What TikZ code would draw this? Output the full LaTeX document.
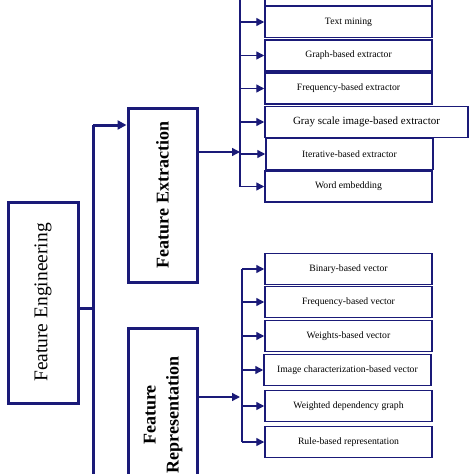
\documentclass[tikz,border=0pt]{standalone}
\usepackage{fontspec}
\setmainfont{Liberation Serif}
\usepackage{graphicx}
\usetikzlibrary{arrows.meta}
\definecolor{navy}{RGB}{26,26,120}

\begin{document}
\begin{tikzpicture}[x=1pt,y=-1pt,>={Triangle[length=8pt,width=8pt]},
  leaf/.style={draw=navy,line width=1.5pt,minimum width=167pt,minimum height=31pt,inner sep=0pt,font=\fontsize{9.7}{11}\selectfont},
  group/.style={draw=navy,line width=3pt,inner sep=0pt,font=\fontsize{18}{23}\selectfont\bfseries},
  bus/.style={draw=navy,line width=1.4pt},
  trunk/.style={draw=navy,line width=3pt}]

  \useasboundingbox (0,0) rectangle (474,474);
  \clip (0,0) rectangle (474,474);

  % main boxes
  \node[group,font=\fontsize{19.5}{22}\selectfont,minimum width=70pt,minimum height=201pt] (fe) at (43,302.5) {\rotatebox{90}{Feature Engineering}};
  \node[group,minimum width=69pt,minimum height=174pt] (fex) at (162.5,195) {\rotatebox{90}{Feature Extraction}};
  \node[group,minimum width=69pt,minimum height=174pt] (fr) at (162.5,415) {\rotatebox{90}{\begin{tabular}{@{}c@{}}Feature\\Representation\end{tabular}}};

  % extraction methods
  \node[leaf] (top) at (348.5,-10) {};
  \node[leaf] (tm) at (348.5,22) {Text mining};
  \node[leaf] (gb) at (348.5,55.5) {Graph-based extractor};
  \node[leaf] (fq) at (348.5,88.5) {Frequency-based extractor};
  \node[leaf,minimum width=203pt,font=\fontsize{11}{13}\selectfont] (gs) at (366.5,122) {Gray scale image-based extractor};
  \node[leaf] (it) at (349.5,154) {Iterative-based extractor};
  \node[leaf] (we) at (348.5,186.5) {Word embedding};

  % representation methods
  \node[leaf] (bv) at (348.5,269) {Binary-based vector};
  \node[leaf] (fv) at (348.5,302) {Frequency-based vector};
  \node[leaf] (wv) at (348.5,336) {Weights-based vector};
  \node[leaf] (ic) at (347.5,370) {Image characterization-based vector};
  \node[leaf] (wd) at (348.5,406) {Weighted dependency graph};
  \node[leaf] (rb) at (348.5,442) {Rule-based representation};

  % trunk
  \coordinate (t0) at (93,308);
  \coordinate (t1) at (93,125);
  \coordinate (t2) at (93,490);
  \draw[trunk] (fe.east |- t0) -- (t0);
  \draw[trunk] (t1) -- (t2);
  \draw[trunk,->,>={Triangle[length=9pt,width=9pt]}] (t1) -- (fex.west |- t1);
  \draw[trunk,->,>={Triangle[length=9pt,width=9pt]}] (t2) -- (fr.west |- t2);

  % extraction bus
  \coordinate (xbus) at (240,0);
  \coordinate (xin) at (240,152);
  \draw[bus,->] (fex.east |- xin) -- (xin);
  \draw[bus] (xbus |- top.west) -- (xbus |- we.west);
  \foreach \n in {top,tm,gb,fq,gs,it,we}
    \draw[bus,->] (xbus |- \n.west) -- (\n.west);

  % representation bus
  \coordinate (rbus) at (242,0);
  \coordinate (rin) at (240,397);
  \draw[bus,->] (fr.east |- rin) -- (rin);
  \draw[bus] (rbus |- bv.west) -- (rbus |- rb.west);
  \foreach \n in {bv,fv,wv,ic,wd,rb}
    \draw[bus,->] (rbus |- \n.west) -- (\n.west);

\end{tikzpicture}
\end{document}
